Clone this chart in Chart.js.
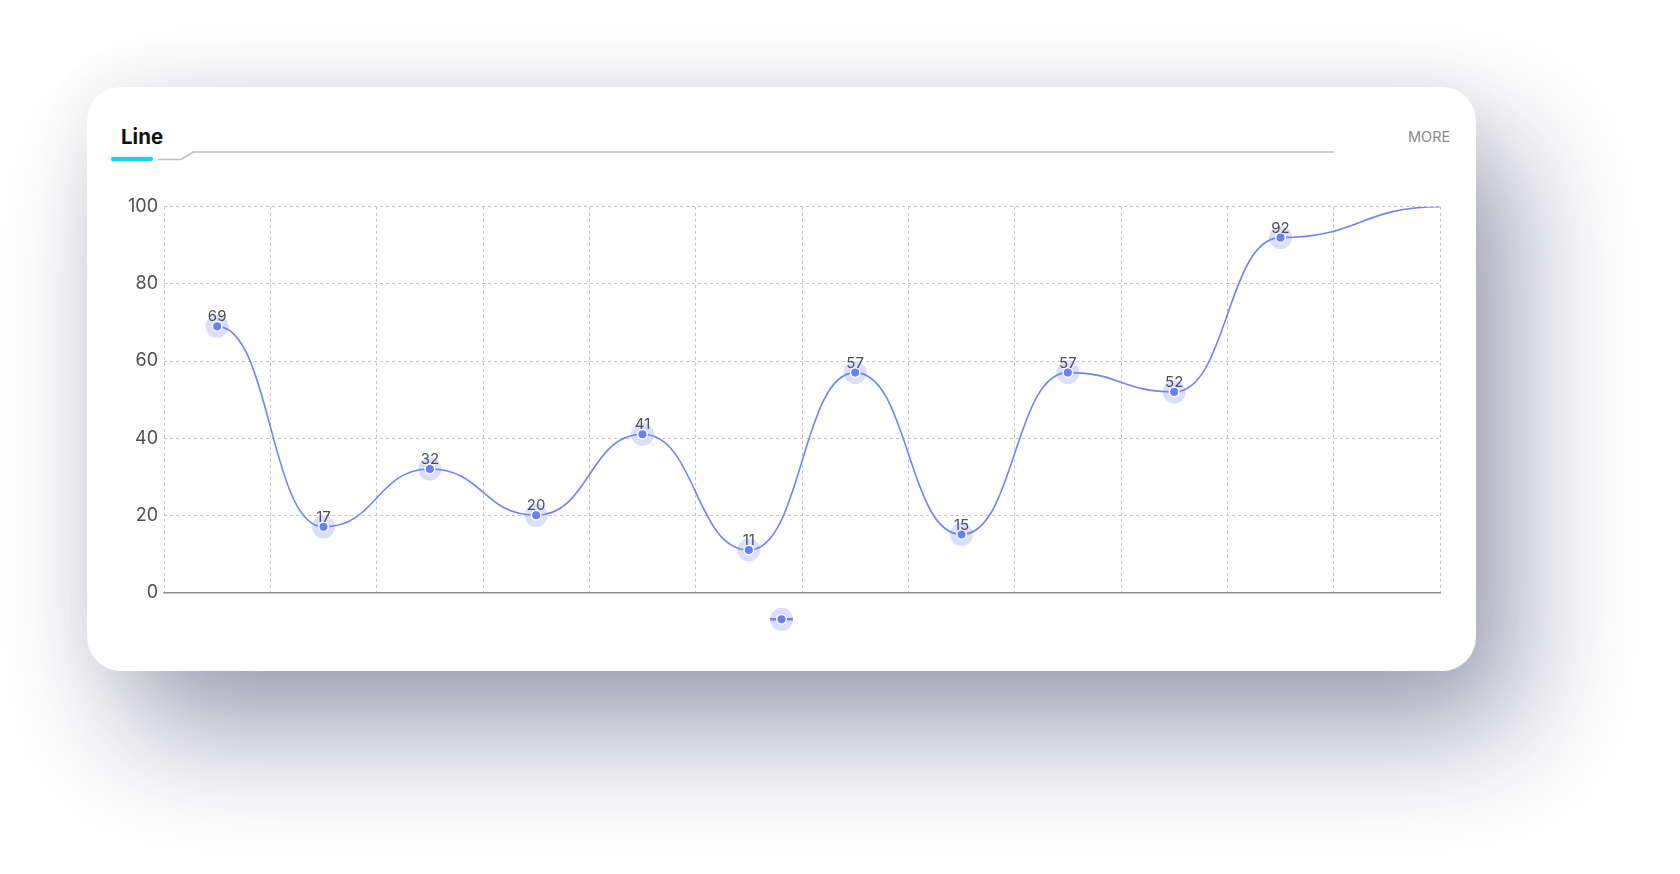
<!DOCTYPE html>
<html>
<head>
<meta charset="utf-8">
<script src="https://cdn.jsdelivr.net/npm/chart.js@4/dist/chart.umd.min.js"></script>
<style>
  html, body { margin: 0; padding: 0; background: #ffffff; width: 1680px; height: 874px; overflow: hidden; font-family: Inter, "Noto Sans", sans-serif; }
  .card { position: absolute; left: 87px; top: 87px; width: 1389px; height: 584px; background: #fff; border-radius: 34px;
          box-shadow: 40px 60px 120px rgba(40,45,90,0.45), 0 0 60px rgba(0,0,0,0.06); }
  .title { position: absolute; left: 121px; top: 124px; font: 700 20.5px Inter, sans-serif; color: #111; line-height: 26px; }
  .bar { position: absolute; left: 111px; top: 156.5px; width: 42px; height: 4px; border-radius: 2px; background: #12d3f3; box-shadow: 0 0 2px rgba(18,211,243,0.6); }
  .more { position: absolute; left: 1408px; top: 128px; font: 400 14.5px Inter, sans-serif; color: #8a8a8a; line-height: 18px; }
  svg.deco { position: absolute; left: 0; top: 0; }
  .wrap { position: absolute; left: 113px; top: 190px; width: 1339px; height: 470px; }
</style>
</head>
<body>
<div class="card"></div>
<svg class="deco" width="1680" height="874"><path d="M158 159.5 L181 159.5 L193 152 L1334 152" fill="none" stroke="#bdbdbd" stroke-width="1.5"/></svg>
<div class="title">Line</div>
<div class="bar"></div>
<div class="more">MORE</div>
<div class="wrap"><canvas id="c"></canvas></div>
<script>
// ---- data ----
const categories = ['1','2','3','4','5','6','7','8','9','10','11','12'];   // 12 grid columns
const xValues = [0, 1, 2, 3, 4, 5, 6, 7, 8, 9, 10, 11.5];                 // category position of each value (last one sits on the right edge)
const values  = [69, 17, 32, 20, 41, 11, 57, 15, 57, 52, 92, 100];
const labeledCount = 11;      // points that carry a marker and a value label
const yTicks = [0, 20, 40, 60, 80, 100];

const LINE = '#6f84f7';
const DOT = '#6a80f6';
const HALO = '#d9dffd';

const points = values.map((v, i) => ({ x: xValues[i], y: v }));
const gridPositions = categories.map((_, i) => i - 0.5).concat([categories.length - 0.5]);

// smooth curve with horizontal tangents at every point (control points at half the gap)
const smoothPlugin = {
  id: 'flatSmooth',
  beforeDatasetDraw(chart, args) {
    if (args.index !== 1) return;
    const line = args.meta.dataset;
    line.updateControlPoints(chart.chartArea, 'x');
    const pts = args.meta.data;
    pts.forEach((p, i) => {
      const prev = pts[i - 1], next = pts[i + 1];
      p.cp1x = prev ? p.x - (p.x - prev.x) / 2 : p.x;
      p.cp1y = p.y;
      p.cp2x = next ? p.x + (next.x - p.x) / 2 : p.x;
      p.cp2y = p.y;
    });
  }
};

const labelPlugin = {
  id: 'valueLabels',
  afterDatasetsDraw(chart) {
    const meta = chart.getDatasetMeta(1);
    const ctx = chart.ctx;
    ctx.save();
    ctx.font = '400 15px Inter, sans-serif';
    ctx.fillStyle = '#4f4f4f';
    ctx.textAlign = 'center';
    ctx.textBaseline = 'alphabetic';
    meta.data.forEach((pt, i) => {
      if (i >= labeledCount) return;
      ctx.fillText(String(values[i]), pt.x, pt.y - 5);
    });
    ctx.restore();
  },
  afterDraw(chart) {
    const ctx = chart.ctx;
    const cx = 781.5 - 113, cy = 619.3 - 190;
    ctx.save();
    ctx.fillStyle = HALO;
    ctx.beginPath(); ctx.arc(cx, cy, 11.5, 0, Math.PI * 2); ctx.fill();
    ctx.strokeStyle = LINE; ctx.lineWidth = 2.5;
    ctx.beginPath(); ctx.moveTo(cx - 11.5, cy); ctx.lineTo(cx + 11.5, cy); ctx.stroke();
    ctx.fillStyle = DOT; ctx.strokeStyle = '#fff'; ctx.lineWidth = 1.5;
    ctx.beginPath(); ctx.arc(cx, cy, 4.8, 0, Math.PI * 2); ctx.fill(); ctx.stroke();
    ctx.restore();
  }
};

new Chart(document.getElementById('c'), {
  type: 'line',
  data: {
    datasets: [
      {
        label: 'halo',
        data: points,
        showLine: false,
        pointRadius: (c) => c.dataIndex < labeledCount ? 11.5 : 0,
        pointBackgroundColor: HALO,
        pointBorderWidth: 0,
        order: 2
      },
      {
        label: 'Line',
        data: points,
        borderColor: LINE,
        borderWidth: 1.6,
        tension: 0.4,
        fill: false,
        pointRadius: (c) => c.dataIndex < labeledCount ? 4.8 : 0,
        pointBackgroundColor: DOT,
        pointBorderColor: '#ffffff',
        pointBorderWidth: 1.5,
        order: 1
      }
    ]
  },
  options: {
    responsive: true,
    maintainAspectRatio: false,
    animation: false,
    events: [],
    layout: { padding: { top: 11.4, right: 12, bottom: 67.6, left: 0 } },
    plugins: { legend: { display: false }, tooltip: { enabled: false } },
    scales: {
      x: {
        type: 'linear',
        min: -0.5,
        max: categories.length - 0.5,
        afterBuildTicks: (s) => { s.ticks = gridPositions.map(v => ({ value: v })); },
        afterFit: (s) => { s.height = 0; },
        ticks: { display: false },
        grid: { display: true, color: '#c4c4c4', lineWidth: 1, drawTicks: false },
        border: { display: true, color: '#8e8e8e', width: 1.5, dash: [3, 3] }
      },
      y: {
        min: 0,
        max: 100,
        afterFit: (s) => { s.width = 51; },
        afterBuildTicks: (s) => { s.ticks = yTicks.map(v => ({ value: v })); },
        ticks: { color: '#4f4f4f', font: { family: 'Inter', size: 18 }, padding: 6 },
        grid: { color: (c) => c.tick && c.tick.value === 0 ? 'rgba(0,0,0,0)' : '#c4c4c4', lineWidth: 1, drawTicks: false },
        border: { display: false, dash: [3, 3] }
      }
    }
  },
  plugins: [smoothPlugin, labelPlugin]
});
</script>
</body>
</html>
